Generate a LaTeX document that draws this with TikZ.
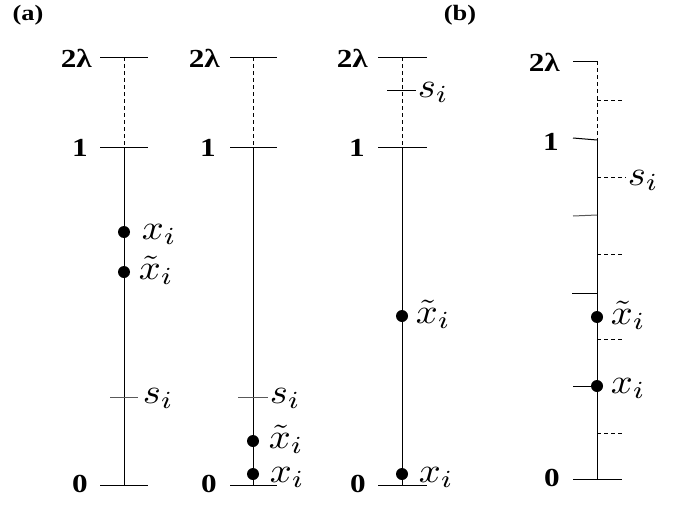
\documentclass[tikz,border=0pt]{standalone}
\usepackage{fontspec}
\newfontfamily\labfont{Liberation Serif}
\begin{document}
\begin{tikzpicture}[x=1pt,y=-1pt,
  axis/.style={line width=1pt},
  dashaxis/.style={line width=0.9pt,dash pattern=on 4pt off 3pt},
  tick/.style={line width=1pt},
  gtick/.style={line width=1pt,gray!70!black},
  dtick/.style={line width=0.9pt,dash pattern=on 4pt off 3pt},
  dot/.style={circle,fill=black,inner sep=0pt,minimum size=12pt},
  num/.style={font=\labfont\bfseries\fontsize{26}{30}\selectfont,anchor=east,inner sep=0pt,xscale=1.2},
  panel/.style={font=\labfont\bfseries\fontsize{22}{26}\selectfont,inner sep=0pt,xscale=1.2},
  mlab/.style={anchor=base west,inner sep=0pt,scale=3.5,xscale=1.1}
]
\useasboundingbox (0,0) rectangle (683,506);
\node[panel] (pa) at (28,15) {(a)};
\node[panel] (pb) at (460,15) {(b)};

% ---------- line 1 ----------
\coordinate (a2) at (124,57);
\coordinate (a1) at (124,147);
\coordinate (a0) at (124,485);
\draw[dashaxis] (a2) -- (a1);
\draw[axis] (a1) -- (a0);
\draw[tick] (100,57) -- (148,57);
\draw[tick] (100,147) -- (148,147);
\draw[tick] (100,485) -- (148,485);
\node[num] (l2a) at (92,58) {2λ};
\node[num] (l1a) at (88,148) {1};
\node[num] (l0a) at (88,484) {0};
\node[dot] (xa) at (124,232) {};
\node[dot] (txa) at (124,272) {};
\draw[gtick] (110,397) -- (138,397);
\node[mlab] (xla) at (141,239.5) {$x_i$};
\node[mlab] (txla) at (138,279.5) {$\tilde x_i$};
\node[mlab] (sla) at (142,403) {$s_i$};

% ---------- line 2 ----------
\coordinate (b2) at (253,57);
\coordinate (b1) at (253,147);
\coordinate (b0) at (253,485);
\draw[dashaxis] (b2) -- (b1);
\draw[axis] (b1) -- (b0);
\draw[tick] (230,57) -- (277,57);
\draw[tick] (230,147) -- (277,147);
\draw[tick] (230,485) -- (277,485);
\node[num] (l2b) at (220,58) {2λ};
\node[num] (l1b) at (216,148) {1};
\node[num] (l0b) at (217,484) {0};
\draw[gtick] (238,397) -- (268,397);
\node[dot] (txb) at (253,441) {};
\node[dot] (xb) at (253,474) {};
\node[mlab] (slb) at (269,403) {$s_i$};
\node[mlab] (txlb) at (268,448) {$\tilde x_i$};
\node[mlab] (xlb) at (269,482) {$x_i$};

% ---------- line 3 ----------
\coordinate (c2) at (402,57);
\coordinate (c1) at (402,147);
\coordinate (c0) at (402,485);
\draw[dashaxis] (c2) -- (c1);
\draw[axis] (c1) -- (c0);
\draw[tick] (378,57) -- (427,57);
\draw[tick] (378,147) -- (427,147);
\draw[tick] (378,485) -- (427,485);
\draw[tick] (387,90) -- (416,90);
\node[num] (l2c) at (368,58) {2λ};
\node[num] (l1c) at (365,148) {1};
\node[num] (l0c) at (366,484) {0};
\node[dot] (txc) at (402,316) {};
\node[dot] (xc) at (402,474) {};
\node[mlab] (slc) at (417,97) {$s_i$};
\node[mlab] (txlc) at (415,323.5) {$\tilde x_i$};
\node[mlab] (xlc) at (418,482) {$x_i$};

% ---------- panel (b) ----------
\coordinate (d2) at (597,61);
\coordinate (d1) at (597,139);
\coordinate (d0) at (597,479);
\draw[dashaxis] (d2) -- (d1);
\draw[axis] (d1) -- (d0);
\draw[tick] (573,61) -- (597,61);
\draw[tick] (573,138) -- (597,140);
\draw[gtick] (573,216) -- (597,215);
\draw[tick] (572,293) -- (597,293);
\draw[tick] (573,386) -- (597,386);
\draw[tick] (573,479) -- (622,479);
\draw[dtick] (597,100) -- (623,100);
\draw[dtick] (597,177) -- (626,177);
\draw[dtick] (597,254) -- (623,254);
\draw[dtick] (597,339) -- (623,339);
\draw[dtick] (597,433) -- (623,433);
\node[num] (l2d) at (560,62) {2λ};
\node[num] (l1d) at (559,142) {1};
\node[num] (l0d) at (560,478) {0};
\node[dot] (txd) at (597,317) {};
\node[dot] (xd) at (597,386) {};
\node[mlab] (sld) at (627,185) {$s_i$};
\node[mlab] (txld) at (610,324) {$\tilde x_i$};
\node[mlab] (xld) at (610,393.5) {$x_i$};
\end{tikzpicture}
\end{document}
